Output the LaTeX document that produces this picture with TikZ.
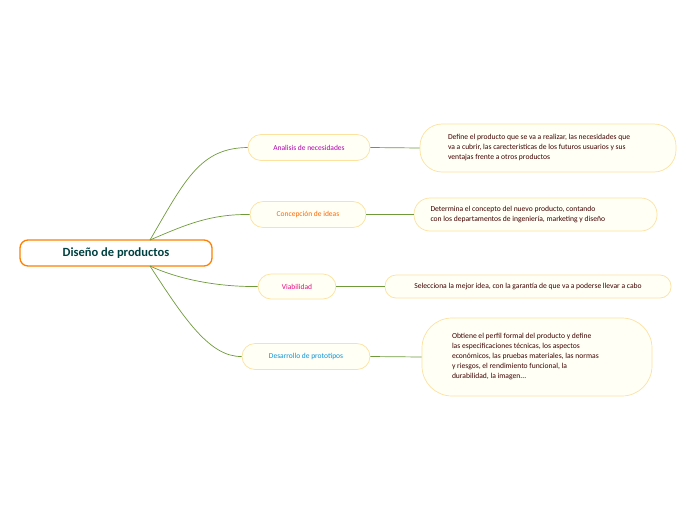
\documentclass[tikz,border=0pt]{standalone}
\usepackage{fontspec}
\setmainfont{Carlito}
\definecolor{lk}{HTML}{6E9A3A}
\begin{document}
\begin{tikzpicture}[x=1pt,y=-1pt,
 sub/.style={draw=yellow!40!orange!35,fill=green!4!yellow!4,rounded corners=13pt,line width=0.7pt,minimum height=26pt,font=\fontsize{7.5}{8}\selectfont,inner sep=0pt},
 det/.style={draw=yellow!40!orange!35,fill=green!4!yellow!4,rounded corners=16pt,line width=0.7pt,font=\fontsize{7.6}{10}\selectfont\color{black!75!red},align=left,inner sep=0pt},
 link/.style={draw=lk,line width=0.7pt}]
\useasboundingbox (0,0) rectangle (696,520);
\node[draw=orange,line width=1.3pt,rounded corners=8pt,minimum width=192pt,minimum height=26pt,font=\bfseries\fontsize{12.5}{14}\selectfont\color{teal!50!black}] (root) at (116,253) {Diseño de productos};
\node[sub,minimum width=122pt,text=violet!60!magenta] (a) at (309,147.5) {Analisis de necesidades};
\node[sub,minimum width=116pt,text=orange!80!red] (b) at (308,214.5) {Concepción de ideas};
\node[sub,minimum width=78pt,minimum height=25pt,text=magenta!85!purple] (c) at (297,286.5) {Viabilidad};
\node[sub,minimum width=128pt,text=cyan!80!blue] (d) at (306,356.5) {Desarrollo de prototipos};
\node[det,minimum width=256pt,minimum height=48pt,rounded corners=22pt] (a2) at (548,148) {\parbox{200pt}{Define el producto que se va a realizar, las necesidades que\\va a cubrir, las carecteristicas de los futuros usuarios y sus\\ventajas frente a otros productos}};
\node[det,minimum width=243pt,minimum height=33pt] (b2) at (535.5,214.5) {\parbox{210pt}{Determina el concepto del nuevo producto, contando\\con los departamentos de ingeniería, marketing y diseño}};
\node[det,minimum width=286pt,minimum height=23pt,rounded corners=11pt,align=center] (c2) at (528,286.5) {Selecciona la mejor idea, con la garantía de que va a poderse llevar a cabo};
\node[det,minimum width=230pt,minimum height=78pt,rounded corners=30pt] (d2) at (537,357) {\parbox{170pt}{Obtiene el perfil formal del producto y define\\las especificaciones técnicas, los aspectos\\económicos, las pruebas materiales, las normas\\y riesgos, el rendimiento funcional, la\\durabilidad, la imagen...}};
\coordinate (o) at (150,240);
\coordinate (o2) at (150,266);
\draw[link] (o) .. controls (185,180) and (200,148) .. (a.west);
\draw[link] (o) .. controls (185,225) and (210,214) .. (b.west);
\draw[link] (o2) .. controls (180,280) and (220,287) .. (c.west);
\draw[link] (o2) .. controls (185,320) and (210,357) .. (d.west);
\draw[link] (a.east) -- (a2.west);
\draw[link] (b.east) -- (b2.west);
\draw[link] (c.east) -- (c2.west);
\draw[link] (d.east) -- (d2.west);
\end{tikzpicture}
\end{document}
